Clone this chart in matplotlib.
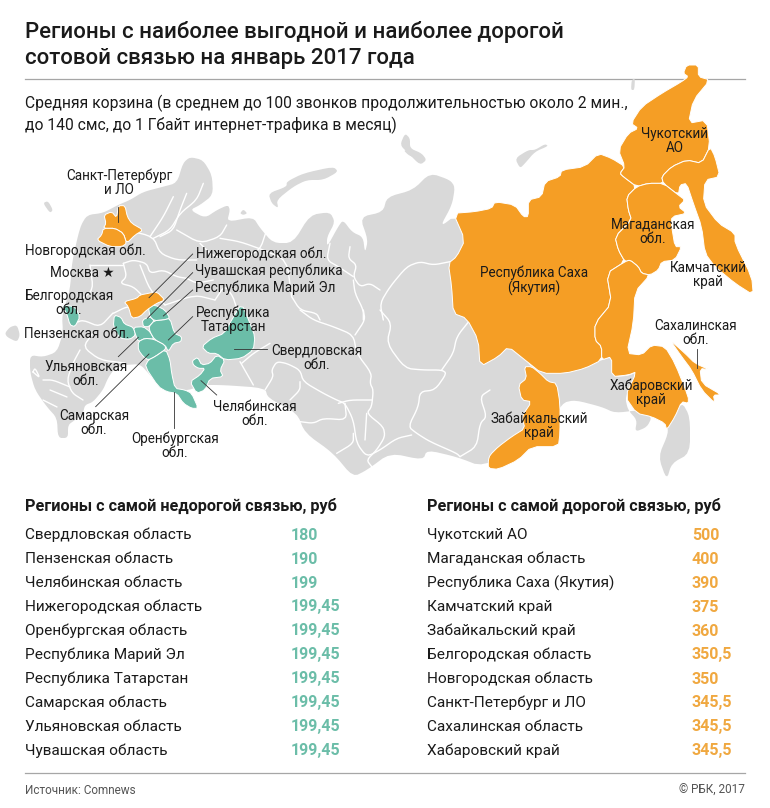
import matplotlib
matplotlib.use("Agg")
import matplotlib.pyplot as plt
from matplotlib.patches import Polygon

plt.rcParams['font.family'] = ['Roboto', 'DejaVu Sans']

GREY = '#d9d9d9'; ORANGE = '#f59e25'; TEAL = '#6bbda8'; INK = '#1a1a1a'

title_lines = ["Регионы с наиболее выгодной и наиболее дорогой", "сотовой связью на январь 2017 года"]
subtitle_lines = ["Средняя корзина (в среднем до 100 звонков продолжительностью около 2 мин.,",
                  "до 140 смс, до 1 Гбайт интернет-трафика в месяц)"]
cheap_header = "Регионы с самой недорогой связью, руб"
cheap_regions = ["Свердловская область", "Пензенская область", "Челябинская область", "Нижегородская область",
                 "Оренбургская область", "Республика Марий Эл", "Республика Татарстан", "Самарская область",
                 "Ульяновская область", "Чувашская область"]
cheap_prices = ["180", "190", "199", "199,45", "199,45", "199,45", "199,45", "199,45", "199,45", "199,45"]
dear_header = "Регионы с самой дорогой связью, руб"
dear_regions = ["Чукотский АО", "Магаданская область", "Республика Саха (Якутия)", "Камчатский край",
                "Забайкальский край", "Белгородская область", "Новгородская область", "Санкт-Петербург и ЛО",
                "Сахалинская область", "Хабаровский край"]
dear_prices = ["500", "400", "390", "375", "360", "350,5", "350", "345,5", "345,5", "345,5"]
source = "Источник: Comnews"
credit = "© РБК, 2017"


def east(pts):
    return [(385 + x / 3, 70 + y / 3) for x, y in pts]


def west(pts):
    return [(x / 3, 150 + y / 3) for x, y in pts]


def south(pts):
    return [(190 + x / 3, 310 + y / 3) for x, y in pts]


def north(pts):
    return [(220 + x / 3, 150 + y / 3) for x, y in pts]


def nw(pts):
    return [(30 + x / 3, 150 + y / 3) for x, y in pts]


def volga(pts):
    return [(105 + x / 3, 300 + y / 3) for x, y in pts]


def urals(pts):
    return [(185 + x / 3, 300 + y / 3) for x, y in pts]


def ladoga(pts):
    return [(90 + x / 3, 195 + y / 3) for x, y in pts]


def soften(pts, closed=True, rounds=2):
    for _ in range(rounds):
        out = []
        n = len(pts)
        if not closed:
            out.append(pts[0])
        for i in range(n if closed else n - 1):
            (x0, y0), (x1, y1) = pts[i], pts[(i + 1) % n]
            out.append((0.8 * x0 + 0.2 * x1, 0.8 * y0 + 0.2 * y1))
            out.append((0.2 * x0 + 0.8 * x1, 0.2 * y0 + 0.8 * y1))
        if not closed:
            out.append(pts[-1])
        pts = out
    return pts


mainland = [
    (58, 438), (57, 418), (47, 407), (35, 390), (30, 372), (30, 355), (43, 357), (57, 352), (63, 333),
    (62, 315), (70, 290), (72, 262), (80, 227), (87, 215), (103, 213), (118, 205), (130, 200), (143, 192),
    (162, 187), (177, 183), (183, 163), (190, 157), (203, 160), (212, 175), (213, 195), (200, 205),
    (190, 210), (205, 218), (217, 210), (228, 205), (230, 210), (227, 222), (253, 217), (260, 228),
    (273, 243), (293, 243), (310, 215), (330, 212), (335, 222), (327, 237), (327, 247), (338, 227),
    (343, 220), (352, 232), (363, 237), (365, 253), (368, 240), (360, 217), (383, 212), (387, 197),
    (413, 190), (430, 173), (450, 180), (455, 187), (452, 205), (440, 227), (456, 215), (500, 260),
    (520, 340), (530, 370), (572, 372), (602, 360), (612, 357), (612, 377), (628, 376), (637, 372),
    (625, 397), (628, 410), (637, 420), (635, 432), (647, 427), (652, 417), (640, 410), (615, 413),
    (602, 407), (575, 400), (562, 403), (540, 440), (483, 467), (457, 457), (427, 450), (423, 460),
    (390, 453), (367, 470), (353, 477), (333, 453), (305, 433), (297, 413), (268, 398), (265, 388),
    (223, 385), (200, 385), (190, 390), (165, 392), (150, 375), (140, 364), (125, 365), (115, 368),
    (108, 378), (103, 390), (93, 402), (85, 405), (83, 413), (75, 420), (68, 425), (68, 438),
]
primorye = east([(890, 995), (915, 1040), (915, 1150), (860, 1180), (845, 1230), (820, 1160), (850, 1090), (845, 1060)])
kaliningrad = [(5, 333), (10, 327), (17, 325), (20, 335), (17, 342), (7, 337)]
novaya_zemlya = north([(145, 130), (200, 110), (200, 95), (250, 70), (340, 50), (355, 65), (310, 90), (260, 90),
                       (220, 110), (170, 150), (175, 175), (155, 160)])
severnaya = east([(60, 190), (75, 205), (75, 235), (110, 250), (125, 270), (105, 285), (70, 250), (45, 225)])
new_siberian = east([(390, 265), (430, 240), (450, 240), (480, 222), (490, 228), (450, 245), (420, 280), (405, 295)])
wrangel = east([(740, 30), (750, 25), (748, 60), (738, 60)])
solovki = [(43, 203), (48, 201), (53, 210), (50, 213)]
kolguev = north([(60, 190), (70, 178), (82, 190), (70, 195)])
franz = north([(550, 0), (585, 0), (580, 22), (565, 15)])
grey_islands = [primorye, kaliningrad, novaya_zemlya, severnaya, new_siberian, wrangel, solovki, kolguev, franz]

yakutia = east([(205, 430), (270, 425), (320, 415), (330, 395), (390, 405), (415, 440), (430, 440), (430, 390), (470, 380),
                (480, 335), (525, 320), (530, 300), (600, 290), (640, 250), (680, 265), (720, 290), (705, 310), (715, 320),
                (755, 350), (725, 380), (730, 420), (740, 450), (690, 500), (700, 540), (720, 575), (665, 610), (680, 700),
                (630, 760), (630, 810), (650, 830), (650, 870), (600, 895), (540, 910), (470, 910), (420, 870), (370, 830),
                (340, 860), (285, 890), (280, 810), (245, 745), (205, 730), (200, 650), (190, 580), (215, 560), (240, 510)])
chukotka = east([(895, 10), (905, -15), (940, -15), (940, 20), (975, 30), (925, 90), (910, 160), (965, 150), (975, 230),
                 (950, 280), (905, 270), (860, 290), (830, 320), (835, 340), (790, 340), (755, 350), (715, 320), (705, 310),
                 (720, 290), (700, 240), (730, 190), (760, 175), (738, 160), (770, 110), (830, 70), (890, 35), (910, 20)])
kamchatka = east([(830, 320), (860, 290), (905, 270), (950, 280), (975, 230), (990, 260), (1005, 320), (960, 330), (955, 400),
                  (1000, 460), (1050, 490), (1050, 520), (1100, 620), (1105, 675), (1050, 640), (990, 590), (960, 550),
                  (950, 470), (925, 400), (905, 340), (885, 345), (880, 375), (835, 340)])
magadan = east([(755, 350), (790, 340), (835, 340), (880, 375), (900, 390), (880, 410), (905, 430), (860, 440), (860, 470),
                (870, 530), (890, 530), (870, 570), (830, 575), (820, 600), (795, 615), (770, 610), (760, 590), (735, 570),
                (720, 575), (700, 540), (690, 500), (740, 450), (730, 420), (725, 380)])
khabarovsk = east([(795, 615), (750, 665), (745, 760), (725, 850), (770, 855), (800, 825), (840, 830), (870, 880), (910, 980),
                   (910, 1000), (890, 995), (870, 1040), (845, 1080), (840, 1060), (800, 1040), (755, 1030), (720, 980),
                   (755, 905), (730, 915), (680, 920), (680, 860), (650, 870), (650, 830), (630, 810), (630, 760), (680, 700),
                   (665, 610), (720, 575), (735, 570), (760, 590), (770, 610)])
sakhalin = east([(855, 810), (900, 850), (930, 880), (975, 900), (945, 895), (950, 940), (1010, 975), (985, 975), (990, 1000),
                 (950, 960), (920, 900), (890, 860)])
zabaikal = east([(310, 1170), (310, 1195), (340, 1198), (400, 1170), (440, 1130), (520, 1130), (525, 1090), (525, 1000), (515, 940),
                 (490, 935), (465, 910), (440, 890), (418, 890), (425, 925), (400, 945), (410, 990), (440, 995), (410, 1040),
                 (420, 1075), (380, 1100), (340, 1130), (315, 1155)])
spb = ladoga([(42, 60), (65, 50), (80, 68), (85, 32), (105, 32), (112, 65), (125, 85), (160, 105), (135, 120), (110, 145),
              (100, 115), (75, 100), (40, 100), (48, 85)])
novgorod = ladoga([(40, 100), (75, 100), (100, 115), (110, 145), (95, 155), (60, 155), (20, 135), (35, 120)])
nizhny = west([(372, 455), (410, 445), (420, 435), (445, 430), (470, 425), (495, 450), (470, 460), (440, 480), (420, 500),
               (395, 505), (385, 470)])
orange_regions = [yakutia, chukotka, kamchatka, magadan, khabarovsk, sakhalin, zabaikal, spb, novgorod, nizhny]

belgorod = west([(185, 465), (225, 470), (240, 500), (225, 530), (210, 525), (200, 490)])
penza = volga([(28, 45), (48, 52), (58, 72), (85, 82), (92, 105), (75, 118), (45, 115), (25, 80)])
ulyanovsk = volga([(92, 105), (85, 82), (115, 80), (135, 95), (148, 118), (120, 115), (100, 125)])
samara = volga([(100, 125), (120, 115), (148, 118), (180, 135), (182, 148), (150, 170), (130, 180), (115, 170), (100, 150)])
orenburg = volga([(130, 180), (150, 170), (182, 148), (195, 180), (200, 220), (210, 265), (240, 270), (260, 280), (280, 325),
                  (260, 325), (235, 310), (215, 280), (185, 275), (160, 260), (120, 200)])
chuvashia = volga([(112, 60), (135, 50), (148, 62), (132, 80), (115, 80)])
mari = volga([(130, 20), (150, 15), (180, 30), (195, 55), (175, 60), (148, 62), (135, 50)])
tatarstan = volga([(132, 80), (148, 62), (175, 60), (195, 55), (208, 100), (230, 110), (228, 125), (205, 130), (190, 155),
                   (180, 135), (148, 118), (135, 95)])
sverdlovsk = urals([(50, 140), (80, 115), (118, 100), (140, 60), (170, 10), (195, 70), (210, 110), (205, 150), (170, 175),
                    (120, 180), (95, 160), (70, 160)])
chelyabinsk = urals([(22, 182), (38, 172), (50, 195), (75, 190), (95, 165), (120, 180), (105, 210), (115, 230), (75, 235),
                     (60, 270), (35, 280), (15, 245), (45, 225), (60, 205), (40, 205), (25, 195)])
teal_regions = [belgorod, penza, ulyanovsk, samara, orenburg, chuvashia, mari, tatarstan, chelyabinsk, sverdlovsk]

border_lines = [
    south([(330, 0), (370, 30), (430, 50), (490, 75), (500, 130), (545, 190), (540, 220), (550, 240), (545, 290), (530, 310),
           (580, 350), (585, 380), (560, 420), (530, 450), (545, 470)]),
    south([(520, 0), (525, 30), (495, 75)]),
    south([(570, 0), (605, 40), (590, 100), (645, 175), (700, 180), (755, 180), (770, 190), (735, 240), (690, 245), (685, 290),
           (655, 350), (680, 370), (720, 395), (800, 430), (810, 440)]),
    south([(755, 180), (790, 130), (800, 80), (840, 30)]),
    south([(900, 240), (870, 260), (890, 320), (870, 340), (860, 410), (810, 440)]),
    south([(665, 375), (620, 385), (570, 420), (530, 440), (500, 400), (490, 330), (465, 280), (440, 270), (400, 250), (340, 215),
           (330, 180), (290, 160), (260, 155), (245, 180), (250, 200), (225, 240)]),
    south([(465, 280), (470, 330), (400, 325), (370, 340), (330, 335)]),
    south([(490, 370), (490, 400), (440, 430)]),
    south([(330, 215), (330, 240), (300, 270)]),
    south([(150, 155), (190, 225)]),
    south([(240, 100), (190, 130), (155, 160)]),
    south([(545, 270), (480, 270), (445, 280)]),
    south([(530, 310), (525, 390)]),
    north([(690, 335), (640, 345), (600, 335), (560, 350), (510, 410), (480, 460), (490, 510)]),
    north([(390, 290), (385, 325), (410, 345), (400, 380), (420, 410), (450, 400), (480, 420)]),
    north([(400, 390), (405, 430), (430, 480), (430, 510)]),
    north([(330, 280), (320, 330), (355, 350), (400, 380)]),
    north([(215, 440), (240, 480), (290, 490), (300, 510)]),
    north([(0, 265), (60, 275), (130, 300), (200, 330), (215, 440)]),
    west([(530, 240), (600, 280), (660, 260), (680, 225)]),
    west([(800, 240), (780, 300), (720, 330), (640, 320), (600, 280)]),
    west([(560, 130), (540, 180), (520, 240), (480, 260)]),
    nw([(290, 240), (370, 260), (390, 310), (440, 330), (500, 330)]),
    nw([(280, 340), (310, 330), (350, 340), (360, 370), (400, 360), (440, 380), (470, 385)]),
    nw([(280, 340), (290, 380), (270, 400), (310, 410), (340, 440)]),
    nw([(180, 345), (280, 345)]),
    nw([(360, 260), (400, 200), (430, 140)]),
    nw([(520, 100), (500, 150), (450, 190), (420, 240), (370, 265)]),
    nw([(470, 385), (500, 400), (550, 390)]),
    nw([(250, 490), (290, 470), (330, 470)]),
    nw([(150, 450), (190, 420), (180, 345)]),
    [(80, 350), (73, 363), (67, 380), (72, 393), (83, 400)],
    [(93, 333), (83, 347), (100, 360), (125, 363)],
    [(75, 323), (83, 320), (100, 327), (113, 313)],
    [(43, 380), (53, 380), (70, 387)],
    [(50, 390), (67, 397)],
    [(43, 400), (57, 407)],
    [(33, 372), (40, 378), (35, 368), (33, 372)],
    [(140, 265), (150, 290), (165, 305)],
    [(165, 305), (195, 295), (215, 300)],
    [(215, 300), (225, 285), (235, 300), (240, 330)],
]
leaders = [
    west([(578, 312), (447, 443)]), west([(578, 368), (442, 505)]), west([(578, 420), (490, 498)]),
    west([(578, 500), (505, 570)]), west([(800, 597), (703, 597)]), west([(603, 692), (650, 735)]),
    west([(523, 725), (523, 835)]), west([(447, 612), (287, 770)]), west([(415, 562), (355, 620)]),
    west([(355, 170), (355, 217)]), east([(935, 838), (935, 893)]),
]
map_labels = [
    ("Санкт-Петербург\nи ЛО", 119, 183, 'center'), ("Новгородская обл.", 85, 251, 'center'), ("Москва ★", 82, 273, 'center'),
    ("Белгородская\nобл.", 69, 303, 'center'), ("Пензенская обл.", 77, 334, 'center'), ("Ульяновская\nобл.", 86, 374, 'center'),
    ("Самарская\nобл.", 94, 423, 'center'), ("Оренбургская\nобл.", 175, 446, 'center'), ("Челябинская\nобл.", 255, 414, 'center'),
    ("Свердловская\nобл.", 317, 358, 'center'), ("Республика\nТатарстан", 233, 320, 'center'),
    ("Нижегородская обл.", 196, 254, 'left'), ("Чувашская республика", 195, 271, 'left'), ("Республика Марий Эл", 195, 288, 'left'),
    ("Чукотский\nАО", 675, 141, 'center'), ("Республика Саха\n(Якутия)", 534, 281, 'center'), ("Магаданская\nобл.", 653, 232, 'center'),
    ("Камчатский\nкрай", 708, 275, 'center'), ("Сахалинская\nобл.", 696, 333, 'center'), ("Хабаровский\nкрай", 651, 393, 'center'),
    ("Забайкальский\nкрай", 539, 426, 'center'),
]

PX = 0.72
fig = plt.figure(figsize=(7.7, 8.08), dpi=100)
ax = fig.add_axes([0, 0, 1, 1])
ax.set_xlim(0, 770); ax.set_ylim(808, 0); ax.axis('off')

ax.plot([25, 745], [79, 79], color='#a6a6a6', lw=0.9, zorder=0)
ax.plot([25, 745], [773, 773], color='#a6a6a6', lw=0.9, zorder=0)

ax.add_patch(Polygon(soften(mainland), closed=True, fc=GREY, ec='none', zorder=1))
for poly in grey_islands:
    ax.add_patch(Polygon(soften(poly), closed=True, fc=GREY, ec='none', zorder=1))
for line in border_lines:
    xs, ys = zip(*soften(line, closed=False))
    ax.plot(xs, ys, color='white', lw=1.0, solid_capstyle='round', solid_joinstyle='round', zorder=2)
for poly in teal_regions:
    ax.add_patch(Polygon(soften(poly, rounds=1), closed=True, fc=TEAL, ec='white', lw=0.7, zorder=3))
for poly in orange_regions:
    ax.add_patch(Polygon(soften(poly, rounds=1), closed=True, fc=ORANGE, ec='white', lw=0.7, zorder=3))
for line in leaders:
    xs, ys = zip(*line)
    ax.plot(xs, ys, color='#333333', lw=0.6, zorder=4)
for text, x, y, align in map_labels:
    ax.text(x, y, text, ha=align, va='center', fontsize=13.5 * PX, color=INK, linespacing=1.02, zorder=5)

for i, line in enumerate(title_lines):
    ax.text(25, 32 + i * 26.5, line, fontsize=22.3 * PX, fontweight='medium', color=INK, va='center')
for i, line in enumerate(subtitle_lines):
    ax.text(25, 103 + i * 22.5, line, fontsize=15.6 * PX, color=INK, va='center')

ax.text(25, 506, cheap_header, fontsize=16.3 * PX, fontweight='bold', color=INK, va='center')
ax.text(427, 506, dear_header, fontsize=16.3 * PX, fontweight='bold', color=INK, va='center')
for i in range(10):
    y = 535 + i * 24
    ax.text(25, y, cheap_regions[i], fontsize=15.4 * PX, color=INK, va='center')
    ax.text(291, y, cheap_prices[i], fontsize=16 * PX, fontweight='bold', color=TEAL, va='center')
    ax.text(427, y, dear_regions[i], fontsize=15.4 * PX, color=INK, va='center')
    ax.text(692, y, dear_prices[i], fontsize=16 * PX, fontweight='bold', color='#f0a840', va='center')

ax.text(25, 790, source, fontsize=11.8 * PX, color='#555555', va='center')
ax.text(745, 790, credit, fontsize=11.8 * PX, color='#555555', va='center', ha='right')

fig.savefig('out.png', dpi=100, facecolor='white')
